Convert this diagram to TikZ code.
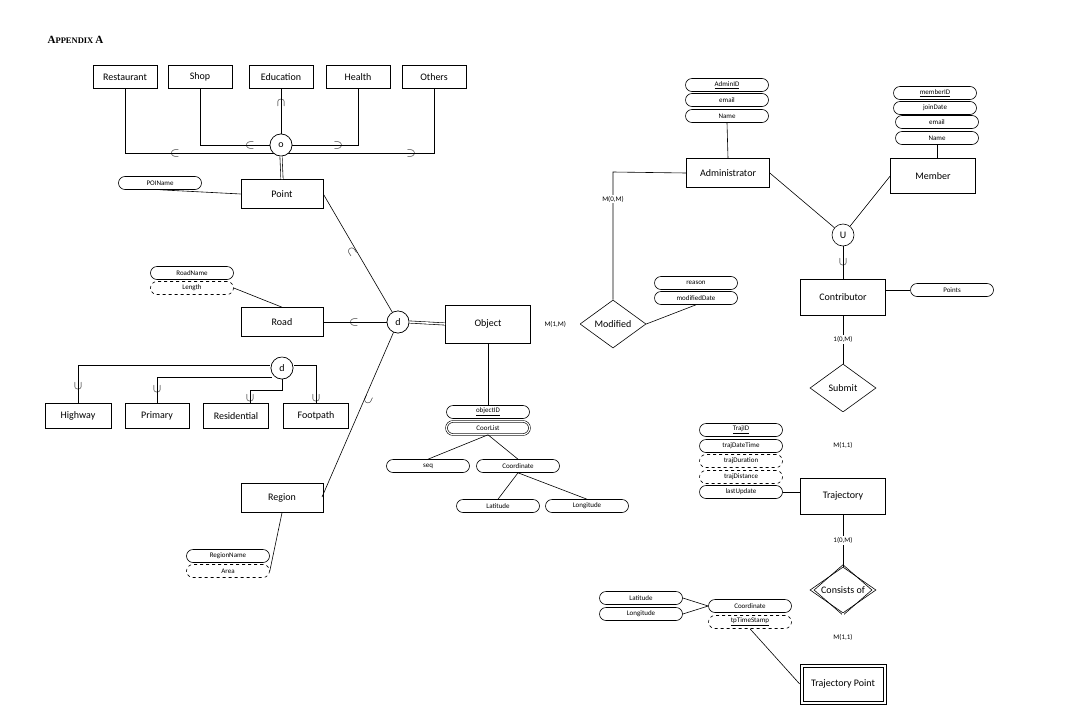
\documentclass[tikz,border=0pt]{standalone}
\usepackage{fontspec}
\setmainfont{Carlito}
\newfontfamily\serifbf{Liberation Serif}
\usetikzlibrary{shapes.geometric}
\begin{document}
\begin{tikzpicture}[x=1pt,y=-1pt,line width=0.6pt,
 ent/.style={draw,minimum width=82pt,minimum height=29pt,inner sep=0pt,font=\fontsize{10}{11}\selectfont},
 att/.style={draw,rounded corners=6.5pt,minimum width=83pt,minimum height=13pt,inner sep=0pt,font=\fontsize{7}{8}\selectfont},
 datt/.style={att,dashed},
 rel/.style={draw,diamond,minimum width=66pt,minimum height=48pt,inner sep=0pt,font=\fontsize{10}{11}\selectfont},
 circ/.style={draw,circle,minimum size=22pt,inner sep=0pt,fill=white,font=\fontsize{10}{11}\selectfont},
 dbl/.style={double,double distance=1.6pt},
 lab/.style={fill=white,inner sep=1pt,font=\fontsize{7}{8}\selectfont},
 sym/.style={inner sep=0pt,font=\fontsize{12}{12}\selectfont}]
\useasboundingbox (0,0) rectangle (1074,707);
\node[anchor=west,font=\serifbf\bfseries\fontsize{11}{12}\selectfont] (title) at (44,40) {A\fontsize{8.5}{10}\selectfont PPENDIX \fontsize{11}{12}\selectfont A};
% POI
\node[ent,minimum width=64pt,minimum height=23pt] (rest) at (125,77) {Restaurant};
\node[ent,minimum width=64pt,minimum height=23pt] (shop) at (200,77) {Shop};
\node[ent,minimum width=64pt,minimum height=23pt] (edu) at (281,77) {Education};
\node[ent,minimum width=64pt,minimum height=23pt] (heal) at (358,77) {Health};
\node[ent,minimum width=64pt,minimum height=23pt] (oth) at (434,77) {Others};
\node[circ] (o) at (281,145) {o};
\node[ent] (point) at (282,194) {Point};
\coordinate (c1) at (125,153); \coordinate (c2) at (434,153);
\draw (rest.south) -- (c1) -- (c2) -- (oth.south);
\draw (shop.south) |- (o.west);
\draw (heal.south) |- (o.east);
\draw (edu.south) -- (o.north);
\node[circ] (o2) at (281,145) {o};
\draw[dbl] (o2.south) -- (point.north);
\node[sym] (s1) at (175,153) {$\subset$};
\node[sym] (s2) at (250,145) {$\subset$};
\node[sym] (s3) at (338,145) {$\supset$};
\node[sym] (s4) at (411,153) {$\supset$};
\node[sym] (s5) at (281,103) {$\cap$};
\node[att] (poi) at (160,183) {POIName};
\draw (poi.south) -- (point.west);
% Road
\node[ent] (road) at (282,322) {Road};
\node[att] (rname) at (192,273) {RoadName};
\node[datt] (rlen) at (192,288) {Length};
\draw (rlen.east) -- (road.north);
\node[circ] (d) at (398,322) {d};
\draw (point.east) -- (d);
\draw (road.east) -- (d.west);
\node[sym,rotate=-57] (s6) at (352,252) {$\subset$};
\node[sym] (s7) at (354,322) {$\subset$};
% road subtypes
\node[circ] (d2) at (282,368) {d};
\draw[dbl] (road.south) -- (d2.north);
\node[ent,minimum width=66pt,minimum height=25pt] (hw) at (78,416) {Highway};
\node[ent,minimum width=64pt,minimum height=25pt] (pr) at (157,416) {Primary};
\node[ent,minimum width=65pt,minimum height=25pt] (res) at (236,416) {Residential};
\node[ent,minimum width=65pt,minimum height=25pt] (fp) at (316,416) {Footpath};
\coordinate (h1) at (78,365); \coordinate (p1) at (157,377); \coordinate (r1) at (282,390); \coordinate (r2) at (250,390); \coordinate (f1) at (316,365);
\coordinate (h0) at (270,365); \coordinate (p0) at (272,377); \coordinate (f0) at (294,365);
\draw (h0) -- (h1) -- (hw.north);
\draw (p0) -- (p1) -- (pr.north);
\draw (d2.south) -- (r1) -- (r2) -- (r2 |- res.north);
\draw (f0) -- (f1) -- (fp.north);
\node[circ] (d2b) at (282,368) {d};
\node[sym] (u1) at (78,386) {$\cup$};
\node[sym] (u2) at (157,389) {$\cup$};
\node[sym] (u3) at (250,398) {$\cup$};
\node[sym] (u4) at (316,398) {$\cup$};
% Region
\node[ent] (region) at (282,498) {Region};
\coordinate (rg) at (322,497);
\draw (rg) -- (d);
\node[sym,rotate=65] (s8) at (368,400) {$\subset$};
\node[att] (rgn) at (228,556) {RegionName};
\node[datt] (area) at (228,571) {Area};
\draw (area.east) -- (region.south);
\node[circ] (db) at (398,322) {d};
% Object
\node[ent,minimum width=85pt,minimum height=38pt] (obj) at (488,324) {Object};
\draw[dbl] (db.east) -- (obj.west);
\node[rel] (mod) at (613,324) {Modified};
\draw[dbl] (obj.east) -- (mod.west);
\path (obj.east) -- node[lab] (l1) {M(1,M)} (mod.west);
\node[att] (reason) at (696,283) {reason};
\node[att] (mdate) at (696,298) {modifiedDate};
\draw (mdate.south) -- (mod.east);
\node[att] (oid) at (488,412) {\underline{objectID}};
\node[att,double,double distance=1.2pt] (cl) at (488,428) {CoorList};
\draw (obj.south) -- (oid.north);
\node[att] (seq) at (428,466) {seq};
\node[att] (coord) at (518,466) {Coordinate};
\node[att] (lat) at (498,506) {Latitude};
\node[att] (lon) at (587,506) {Longitude};
\draw (cl.south) -- (seq.north);
\draw (cl.south) -- (coord.north);
\draw (coord.south) -- (lat.north);
\draw (coord.south) -- (lon.north);
% Admin
\node[ent,minimum width=83pt] (admin) at (728,173) {Administrator};
\node[att] (aid) at (727,85) {\underline{AdminID}};
\node[att] (aem) at (727,100) {email};
\node[att] (anm) at (727,116) {Name};
\draw (anm.south) -- (admin.north);
\coordinate (mc) at (613,172);
\draw (mod.north) -- (mc) -- (admin.west);
\node[lab] (l2) at (613,199) {M(0,M)};
\node[ent,minimum width=85pt,minimum height=35pt] (mem) at (933,176) {Member};
\node[att] (mid) at (935,93) {\underline{memberID}};
\node[att] (mjd) at (935,108) {joinDate};
\node[att] (mem2) at (937,122) {email};
\node[att] (mnm) at (937,138) {Name};
\draw (mnm.south) -- (mnm.south |- mem.north);
\node[circ] (u) at (843,235) {U};
\draw (admin.east) -- (u);
\draw (mem.west) -- (u);
\node[ent,minimum width=85pt,minimum height=36pt] (contr) at (843,297) {Contributor};
\draw (u.south) -- (contr.north);
\node[sym] (u5) at (843,262) {$\cup$};
\node[att] (pts) at (952,290) {Points};
\draw (contr.east |- pts.west) -- (pts.west);
\node[rel] (sub) at (843,388) {Submit};
\draw (contr.south) -- node[lab] (l3) {1(0,M)} (sub.north);
\node[ent,minimum width=85pt,minimum height=36pt] (traj) at (843,496) {Trajectory};
\draw[dbl] (sub.south) -- (traj.north);
\node[lab] (l4) at (843,445) {M(1,1)};
\node[att] (tid) at (741,430) {\underline{TrajID}};
\node[att] (tdt) at (741,446) {trajDateTime};
\node[datt] (tdu) at (741,461) {trajDuration};
\node[datt] (tdi) at (741,477) {trajDistance};
\node[att] (tlu) at (741,492) {lastUpdate};
\draw (tlu.east) -- (tlu.east -| traj.west);
\node[rel,minimum width=66pt,minimum height=46pt] (cons) at (843,590) {};
\node[rel,minimum width=58pt,minimum height=40pt] (consin) at (843,590) {Consists of};
\draw (traj.south) -- node[lab] (l5) {1(0,M)} (cons.north);
\node[ent,minimum width=86pt,minimum height=40pt] (tp) at (843,684) {};
\node[ent,minimum width=80pt,minimum height=34pt] (tpin) at (843,684) {Trajectory Point};
\draw[dbl] (cons.south) -- (tp.north);
\node[lab] (l6) at (843,637) {M(1,1)};
\node[att] (tpc) at (750,606) {Coordinate};
\node[datt] (tpts) at (750,622) {\underline{tpTimeStamp}};
\node[att] (tpla) at (641,598) {Latitude};
\node[att] (tplo) at (641,614) {Longitude};
\draw (tpla.east) -- (tpc.west);
\draw (tplo.east) -- (tpc.west);
\draw (tpts.south) -- (tp.west);
\end{tikzpicture}
\end{document}
